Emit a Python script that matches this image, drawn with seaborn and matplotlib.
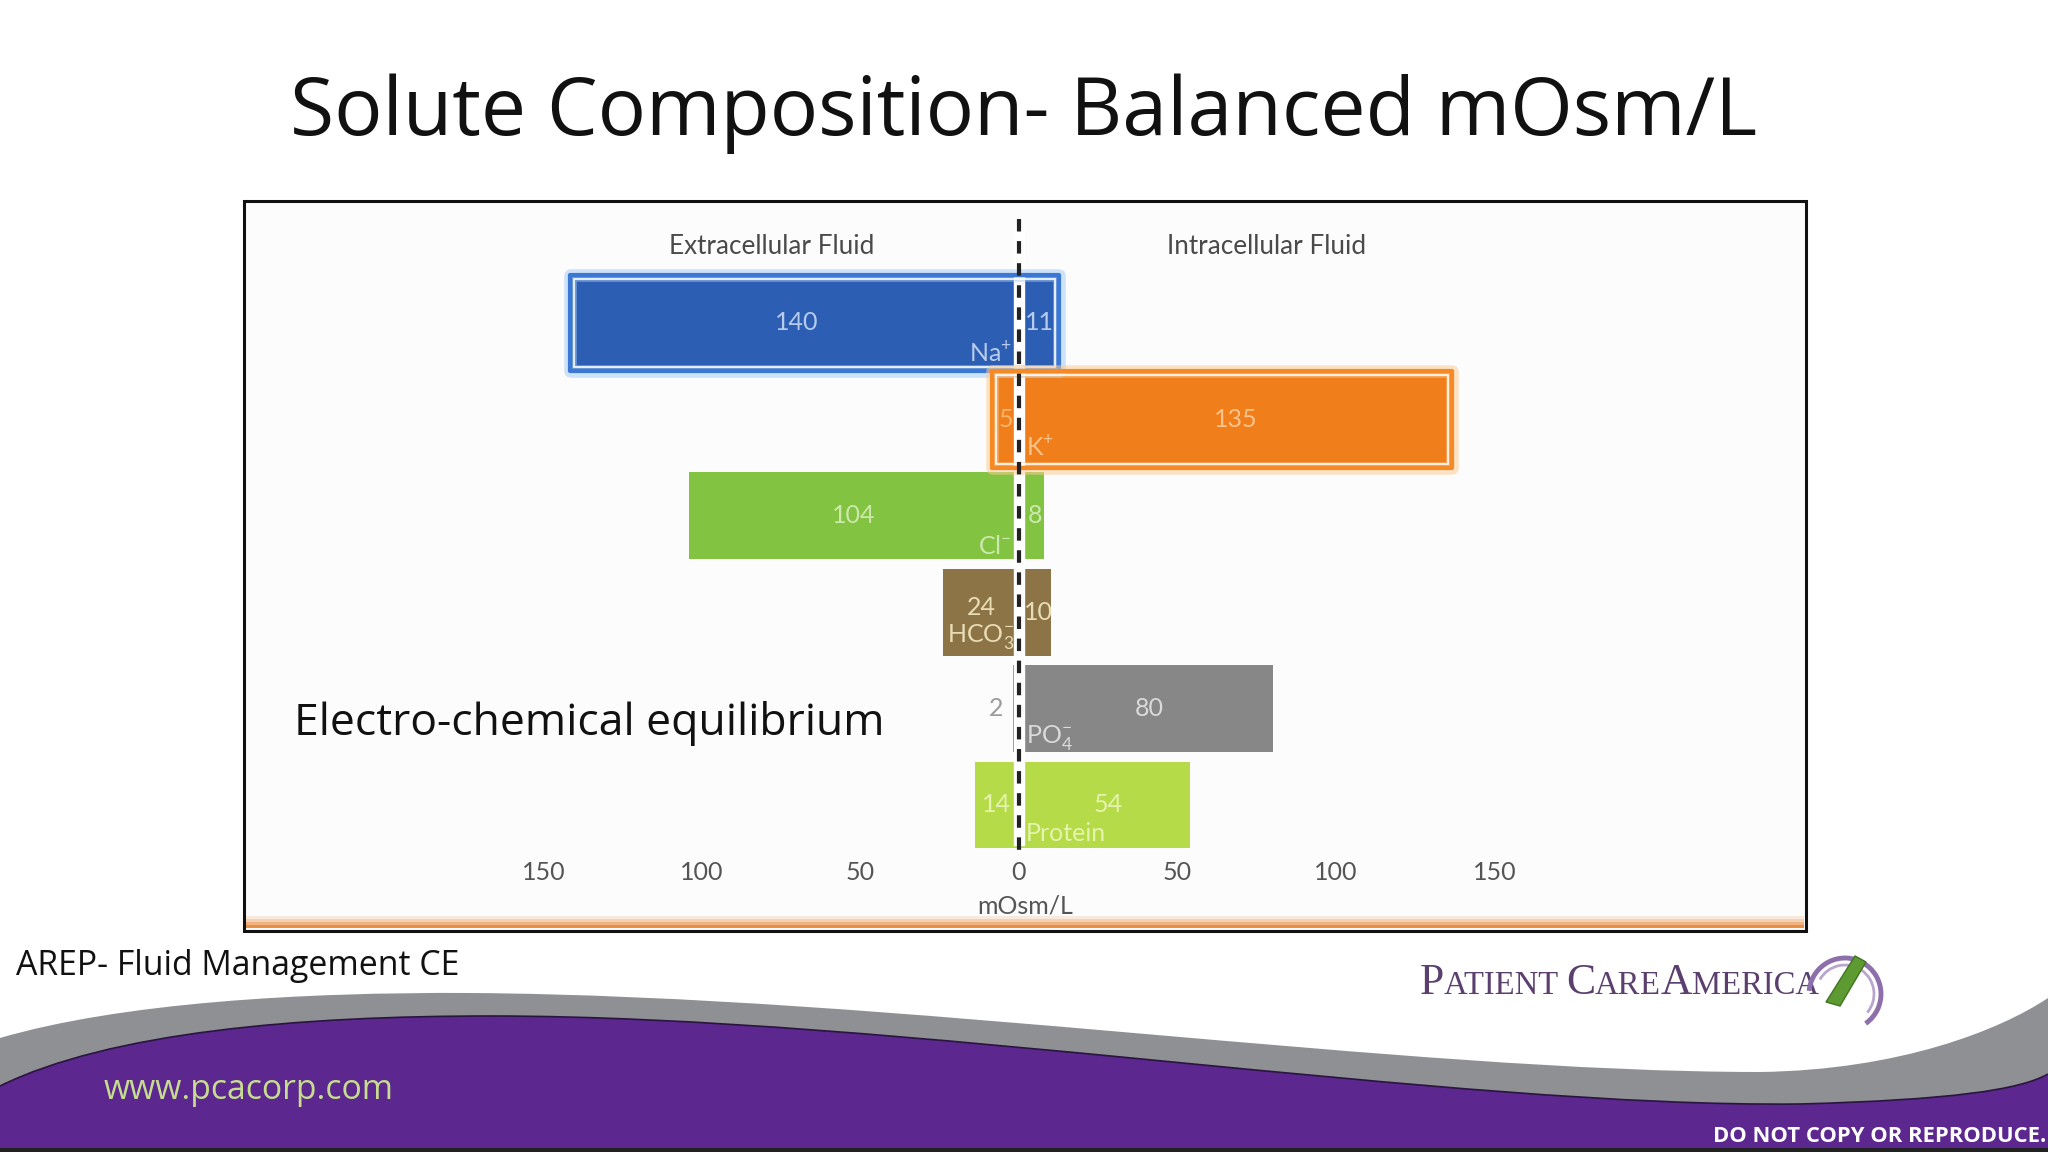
import numpy as np
import matplotlib
matplotlib.use("Agg")
from matplotlib import pyplot as plt
from matplotlib.patches import Rectangle, PathPatch, Polygon, Arc
from matplotlib.path import Path
import matplotlib.patheffects as pe
import seaborn as sns

# data (mOsm/L)
ions = ["Na", "K", "Cl", "HCO3", "PO4", "Protein"]
ion_labels = [r"Na$^{+}$", r"K$^{+}$", r"Cl$^{-}$", r"HCO$_3^{-}$", r"PO$_4^{-}$", "Protein"]
extracellular = [140, 5, 104, 24, 2, 14]
intracellular = [11, 135, 8, 10, 80, 54]
tick_values = [-150, -100, -50, 0, 50, 100, 150]
tick_labels = ["150", "100", "50", "0", "50", "100", "150"]

bar_colors = ["#2C5FB3", "#EF7E1B", "#82C341", "#8C7447", "#878787", "#B5DB48"]
text_colors = ["#B9CBEA", "#FBC48C", "#CDE8AC", "#E9DDB6", "#DADADA", "#E6F3AE"]
glow_colors = {0: ("#3B78D6", "#A8CBF4"), 1: ("#F58A25", "#FCCB94")}
ion_side = ["left", "right", "left", "mid", "right", "right"]

sns.set_theme(style="white")
plt.rcParams["font.family"] = ["Lato", "DejaVu Sans"]
plt.rcParams["mathtext.fontset"] = "custom"
plt.rcParams["mathtext.rm"] = "Lato"

W, H = 2048, 1152
fig = plt.figure(figsize=(W / 100, H / 100), dpi=100)

# slide background in pixel coordinates
bg = fig.add_axes([0, 0, 1, 1])
bg.set_xlim(0, W)
bg.set_ylim(H, 0)
bg.axis("off")

# chart frame
bg.add_patch(Rectangle((244, 201), 1562, 730, facecolor="#FCFCFC", edgecolor="none", zorder=0))
for k, a in enumerate([0.9, 0.6, 0.35, 0.15]):
    bg.add_patch(Rectangle((246, 925 - 3 * k), 1558, 3, facecolor="#E8822E", alpha=a,
                           edgecolor="none", zorder=1))
bg.add_patch(Rectangle((244, 201), 1562, 730, facecolor="none", edgecolor="#111111", lw=2.2, zorder=6))

# footer swooshes
M, C = Path.MOVETO, Path.CURVE4
gray_pts = [(0, 1152), (0, 1038), (120, 1003), (300, 992), (470, 993),
            (900, 996), (1400, 1072), (1760, 1072),
            (1900, 1070), (2000, 1030), (2048, 998), (2048, 1152), (0, 1152)]
gray_codes = [M, Path.LINETO, C, C, C, C, C, C, C, C, C, Path.LINETO, Path.CLOSEPOLY]
bg.add_patch(PathPatch(Path(gray_pts, gray_codes), facecolor="#8E9093", edgecolor="none", zorder=1))
purple_top = [(0, 1086), (110, 1032), (300, 1016), (490, 1016),
              (900, 1016), (1450, 1108), (1800, 1104),
              (1950, 1100), (2020, 1090), (2048, 1074)]
purple_codes = [M, C, C, C, C, C, C, C, C, C]
purple_pts = purple_top + [(2048, 1152), (0, 1152), (0, 1086)]
bg.add_patch(PathPatch(Path(purple_pts, purple_codes + [Path.LINETO, Path.LINETO, Path.CLOSEPOLY]),
                       facecolor="#5C278E", edgecolor="none", zorder=2))
bg.add_patch(PathPatch(Path(purple_top, purple_codes), facecolor="none", edgecolor="#2A1540",
                       lw=1.2, zorder=3))
bg.add_patch(Rectangle((0, 1148), W, 4, facecolor="#222222", edgecolor="none", zorder=4))

# slide texts
bg.text(1024, 114, "Solute Composition- Balanced mOsm/L", ha="center", va="center",
        fontsize=58, color="#111111", family=["Open Sans", "DejaVu Sans"])
bg.text(294, 724, "Electro-chemical equilibrium", ha="left", va="center", fontsize=32,
        color="#111111", family=["Open Sans", "DejaVu Sans"], zorder=7)
bg.text(16, 966, "AREP- Fluid Management CE", ha="left", va="center", fontsize=24.4,
        color="#111111", family=["Open Sans", "DejaVu Sans"])
bg.text(104, 1090, "www.pcacorp.com", ha="left", va="center", fontsize=24.3,
        color="#C6DC8F", family=["Open Sans", "DejaVu Sans"], zorder=5)
bg.text(2046, 1137, "DO NOT COPY OR REPRODUCE.", ha="right", va="center", fontsize=15.8,
        color="white", fontweight="bold", family=["Open Sans", "DejaVu Sans"], zorder=5)

# logo: small caps built from chained text pieces
logo_parts = [("P", 31.5), ("ATIENT ", 23.5), ("C", 31.5), ("AR", 23.5), ("E", 23.5),
              ("A", 31.5), ("MERICA", 23.5)]
prev = None
for txt, size in logo_parts:
    kw = dict(fontsize=size, color="#5B3F6E", family=["Liberation Serif", "DejaVu Serif"],
              va="baseline", ha="left")
    if prev is None:
        prev = bg.text(1420, 994, txt, **kw)
    else:
        prev = bg.annotate(txt, xy=(1, 158), xycoords=(prev, "figure pixels"), **kw)
bg.add_patch(Arc((1845, 994), 72, 72, theta1=-175, theta2=55, color="#8C6FAB", lw=3.5, zorder=5))
bg.add_patch(Arc((1845, 994), 58, 58, theta1=-150, theta2=40, color="#B9A6CE", lw=2, zorder=5))
bg.add_patch(Polygon([(1826, 1002), (1840, 1006), (1866, 962), (1855, 956)], closed=True,
                     facecolor="#5E9A32", edgecolor="#3F7420", lw=1, zorder=6))

# the chart itself
ax = fig.add_axes([244 / W, 1 - 858 / H, 1562 / W, 653 / H])
ax.set_facecolor("none")
ax.patch.set_alpha(0)

ecf_neg = [-v for v in extracellular]
sns.barplot(x=ecf_neg, y=ions, hue=ions, palette=bar_colors, orient="h", width=0.9,
            legend=False, saturation=1, ax=ax, zorder=2)
sns.barplot(x=intracellular, y=ions, hue=ions, palette=bar_colors, orient="h", width=0.9,
            legend=False, saturation=1, ax=ax, zorder=2)
for bar in ax.patches:
    bar.set_edgecolor("none")

# glowing outlines on the first two rows
for i, (edge, glow) in glow_colors.items():
    x0, x1 = -extracellular[i] - 1.5, intracellular[i] + 1.5
    if i == 1:
        x0 = -extracellular[i] - 3.5
    ax.add_patch(Rectangle((x0, i - 0.5), x1 - x0, 1.0, facecolor=bar_colors[i], edgecolor="none",
                           zorder=1.5))
    outline = Rectangle((x0, i - 0.5), x1 - x0, 1.0, facecolor="none", edgecolor=edge, lw=3,
                        joinstyle="round", zorder=4)
    outline.set_path_effects([pe.Stroke(linewidth=9, foreground=glow, alpha=0.55), pe.Normal()])
    ax.add_patch(outline)
    ax.add_patch(Rectangle((x0 + 1.2, i - 0.46), x1 - x0 - 2.4, 0.92, facecolor="none",
                           edgecolor="white", lw=1.3, alpha=0.9, zorder=4))

# white gap and dashed centre line
ax.axvspan(-1.6, 1.6, ymin=0.02, ymax=0.97, color="white", zorder=3)
ax.vlines(0, -1.08, 5.52, colors="#222222", lw=3, linestyles=(0, (3, 2.3)), zorder=5)

# values and ion names
fs = 18
for i in range(len(ions)):
    e, n = extracellular[i], intracellular[i]
    tc = text_colors[i]
    ev_y = i - 0.05 if ion_side[i] == "mid" else i
    if e < 4:
        ax.text(-e - 3, i, str(e), ha="right", va="center", fontsize=fs, color="#9C9C9C", zorder=6)
    elif e < 8:
        ax.text(-e + 0.8, i, str(e), ha="center", va="center", fontsize=fs, color="#F9B56A", zorder=6)
    else:
        ax.text(-e / 2, ev_y, str(e), ha="center", va="center", fontsize=fs, color=tc, zorder=6)
    ax.text(n / 2 + 1, i, str(n), ha="center", va="center", fontsize=fs, color=tc, zorder=6)
    side = ion_side[i]
    if side == "left":
        ax.text(-2.2, i + 0.32, ion_labels[i], ha="right", va="center", fontsize=fs, color=tc, zorder=6)
    elif side == "right":
        ax.text(2.2, i + 0.3, ion_labels[i], ha="left", va="center", fontsize=fs, color=tc, zorder=6)
    else:
        ax.text(-e / 2, i + 0.25, ion_labels[i], ha="center", va="center", fontsize=fs, color=tc, zorder=6)

ax.text(-78, -0.79, "Extracellular Fluid", ha="center", va="center", fontsize=18.8, color="#4A4A4A")
ax.text(78, -0.79, "Intracellular Fluid", ha="center", va="center", fontsize=18.8, color="#4A4A4A")

ax.set_xlim(-244.5, 248.3)
ax.set_ylim(5.55, -1.224)
ax.set_xticks(tick_values)
ax.set_xticklabels(tick_labels, fontsize=18, color="#555555")
ax.tick_params(axis="x", length=0, pad=2)
ax.set_yticks([])
ax.set_ylabel("")
ax.set_xlabel("mOsm/L", fontsize=18, color="#555555", labelpad=8)
sns.despine(ax=ax, left=True, bottom=True)

fig.savefig("out.png", dpi=100)
